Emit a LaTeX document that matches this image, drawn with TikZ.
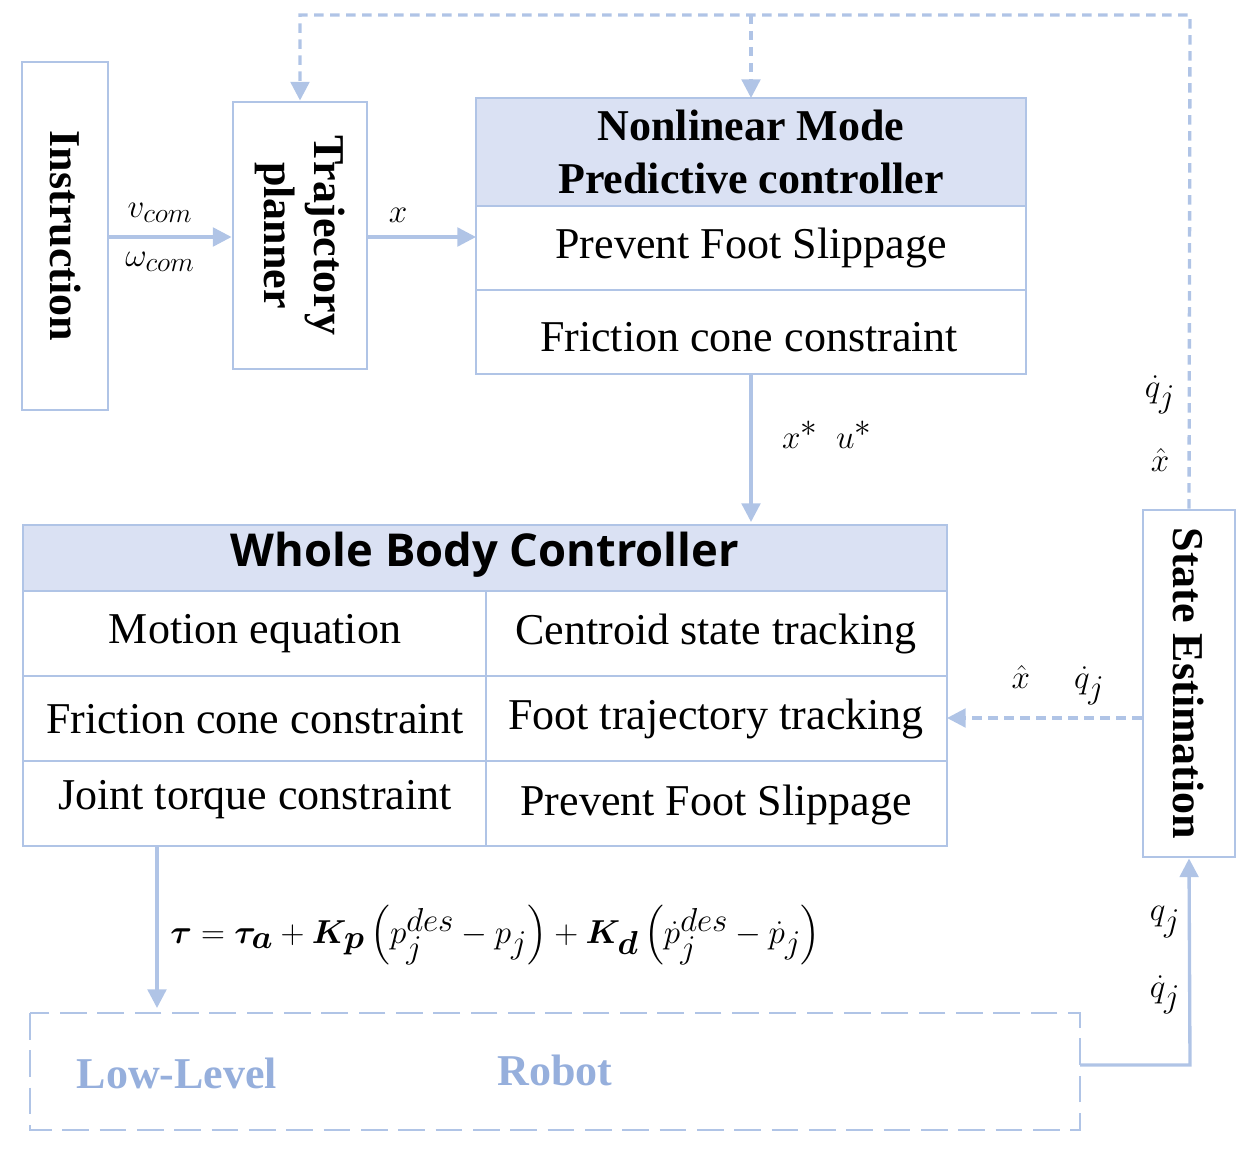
\documentclass[tikz,border=0pt]{standalone}
\usepackage{fontspec}
\usepackage{amsmath,bm}
\setmainfont{Liberation Serif}
\newfontfamily\hdr{Open Sans}
\usetikzlibrary{arrows.meta}
\definecolor{ln}{RGB}{176,196,230}
\definecolor{hd}{RGB}{218,225,243}
\definecolor{rb}{RGB}{150,175,220}
\begin{document}
\begin{tikzpicture}[x=0.75pt,y=-0.75pt,
  bx/.style={draw=ln,line width=2.2pt},
  cell/.style={draw=ln,line width=1.6pt},
  ar/.style={draw=ln,line width=2.5pt,-{Triangle[length=14pt,width=14pt]}},
  da/.style={ar,dashed,dash pattern=on 7pt off 5pt},
  tx/.style={font=\fontsize{33}{36}\selectfont},
  bt/.style={font=\fontsize{33}{38}\selectfont\bfseries},
  ml/.style={font=\fontsize{33}{35}\selectfont}]
\useasboundingbox (0,0) rectangle (1251,1148);
% Instruction
\node[bx,minimum width=86*0.75pt,minimum height=348*0.75pt] (ins) at (65,236) {};
\node[bt,rotate=-90] at (ins) {Instruction};
% Trajectory planner
\node[bx,minimum width=134*0.75pt,minimum height=267*0.75pt] (tp) at (300,235.5) {};
\node[bt,rotate=-90,align=center] at (tp) {Trajectory\\planner};
% NMPC
\draw[cell,fill=hd] (476,98) rectangle (1026,206);
\draw[cell] (476,206) rectangle (1026,290);
\draw[cell] (476,290) rectangle (1026,374);
\node[align=center,font=\fontsize{33}{40}\selectfont\bfseries] (nh) at (751,152) {Nonlinear Mode\\Predictive controller};
\node[tx] at (751,248) {Prevent Foot Slippage};
\node[tx] at (749,337) {Friction cone constraint};
\coordinate (nt) at (751,98);
\coordinate (nb) at (751,374);
\coordinate (nl) at (476,237);
% WBC
\draw[cell,fill=hd] (23,525) rectangle (947,591);
\foreach \y in {591,676,761}{\draw[cell] (23,\y) rectangle (486,\y+85); \draw[cell] (486,\y) rectangle (947,\y+85);}
\node[font=\hdr\fontsize{34}{36}\selectfont\bfseries] at (485,555) {Whole Body Controller};
\node[tx] at (255,634) {Motion equation};
\node[tx] at (716,634) {Centroid state tracking};
\node[tx] at (255,719) {Friction cone constraint};
\node[tx] at (716,719) {Foot trajectory tracking};
\node[tx] at (255,800) {Joint torque constraint};
\node[tx] at (716,805) {Prevent Foot Slippage};
\coordinate (wt) at (751,522);
\coordinate (wr) at (947,718);
\coordinate (wb) at (157,846);
% State estimation
\node[bx,minimum width=92*0.75pt,minimum height=347*0.75pt] (se) at (1189,683.5) {};
\node[bt,rotate=-90] at (se) {State Estimation};
% Robot
\draw[ln,line width=2.2pt,dashed,dash pattern=on 20pt off 8pt] (30,1013) rectangle (1080,1130);
\node[bt,text=rb] at (177,1073) {Low-Level};
\node[bt,text=rb] at (555,1070) {Robot};
\coordinate (rr) at (1080,1065);
\coordinate (rt) at (157,1008);
% arrows
\draw[ar] (ins.east|-0,237) -- (tp.west|-0,237);
\node[font=\fontsize{28}{30}\selectfont] at (160,213) {$v_{com}$};
\node[font=\fontsize{28}{30}\selectfont] at (160,262) {$\omega_{com}$};
\draw[ar] (tp.east|-0,237) -- (nl);
\node[ml] at (398,215) {$x$};
\draw[ar] (nb) -- (wt);
\node[ml] at (827,435) {$x^*\;\; u^*$};
\draw[da] (se.north) -- (1190,15) -- (300,15) -- (tp.north);
\draw[da] (751,15) -- (nt);
\node[ml] at (1160,395) {$\dot q_j$};
\node[ml] at (1160,460) {$\hat x$};
\draw[da] (se.west|-wr) -- (wr);
\node[ml] at (1058,685) {$\hat x\quad \dot q_j$};
\draw[ar] (wb) -- (rt);
\node[anchor=west,inner sep=0pt,font=\fontsize{33}{35}\selectfont] at (170,935) {$\bm{\tau}=\bm{\tau_a}+\bm{K_p}\left(p_j^{des}-p_j\right)+\bm{K_d}\left(\dot p_j^{des}-\dot p_j\right)$};
\draw[ar] (rr) -- (1190,1065) -- (se.south);
\node[ml] at (1165,922) {$q_j$};
\node[ml] at (1165,995) {$\dot q_j$};
\end{tikzpicture}
\end{document}
